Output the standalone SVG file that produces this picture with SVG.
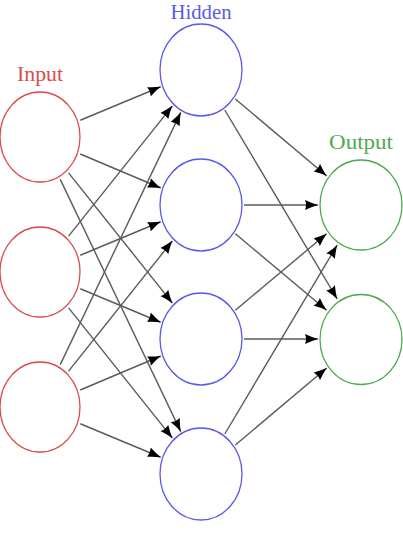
<svg xmlns="http://www.w3.org/2000/svg" width="403" height="543" viewBox="0 0 403 543">
<style>
.node{fill:#ffffff;stroke-width:1.3}
.in{stroke:#d94c4c}
.hid{stroke:#5a5ae8}
.out{stroke:#4eaa4e}
.lbl{font-family:"Liberation Serif","Times New Roman",serif;font-size:22px;text-anchor:middle}
.e{stroke:#5a5a5a;stroke-width:1.4;fill:none;marker-end:url(#ah)}
</style>
<defs>
<marker id="ah" markerUnits="userSpaceOnUse" markerWidth="14" markerHeight="11" viewBox="0 0 14 11" refX="13" refY="5.5" orient="auto">
<path d="M0,0.5 Q7,3.8 13,5.5 Q7,7.2 0,10.5 Q2,5.5 0,0.5 z" fill="#000"/>
</marker>
</defs>
<rect width="403" height="543" fill="#ffffff"/>
<g id="connectors">
<line class="e" x1="80.29" y1="120.23" x2="160.71" y2="86.77"/>
<line class="e" x1="80.22" y1="153.99" x2="160.78" y2="188.01"/>
<line class="e" x1="68.58" y1="172.86" x2="172.42" y2="303.14"/>
<line class="e" x1="60.23" y1="179.35" x2="180.77" y2="431.65"/>
<line class="e" x1="68.58" y1="236.14" x2="172.42" y2="105.86"/>
<line class="e" x1="80.29" y1="255.23" x2="160.71" y2="221.77"/>
<line class="e" x1="80.29" y1="288.77" x2="160.71" y2="322.23"/>
<line class="e" x1="68.58" y1="307.86" x2="172.42" y2="438.14"/>
<line class="e" x1="60.23" y1="364.65" x2="180.77" y2="112.35"/>
<line class="e" x1="68.58" y1="371.14" x2="172.42" y2="240.86"/>
<line class="e" x1="80.22" y1="390.01" x2="160.78" y2="355.99"/>
<line class="e" x1="80.29" y1="423.77" x2="160.71" y2="457.23"/>
<line class="e" x1="235.3" y1="98.94" x2="326.7" y2="176.06"/>
<line class="e" x1="224.78" y1="109.99" x2="337.22" y2="299.01"/>
<line class="e" x1="244" y1="205" x2="318" y2="205"/>
<line class="e" x1="235.4" y1="233.81" x2="326.6" y2="310.19"/>
<line class="e" x1="235.4" y1="310.19" x2="326.6" y2="233.81"/>
<line class="e" x1="244" y1="339" x2="318" y2="339"/>
<line class="e" x1="224.78" y1="434.01" x2="337.22" y2="244.99"/>
<line class="e" x1="235.3" y1="445.06" x2="326.7" y2="367.94"/>
</g>
<g id="input-1"><ellipse class="node in" cx="40" cy="137" rx="40" ry="45"/></g>
<g id="input-2"><ellipse class="node in" cx="40" cy="272" rx="40" ry="45"/></g>
<g id="input-3"><ellipse class="node in" cx="40" cy="407" rx="40" ry="45"/></g>
<g id="hidden-1"><ellipse class="node hid" cx="201" cy="70" rx="41" ry="46"/></g>
<g id="hidden-2"><ellipse class="node hid" cx="201" cy="205" rx="41" ry="46"/></g>
<g id="hidden-3"><ellipse class="node hid" cx="201" cy="339" rx="41" ry="46"/></g>
<g id="hidden-4"><ellipse class="node hid" cx="201" cy="474" rx="41" ry="46"/></g>
<g id="output-1"><ellipse class="node out" cx="361" cy="205" rx="41" ry="45"/></g>
<g id="output-2"><ellipse class="node out" cx="361" cy="339.5" rx="41" ry="45"/></g>
<g id="labels">
<text class="lbl" x="40" y="81" fill="#d94c4c" textLength="46" lengthAdjust="spacingAndGlyphs">Input</text>
<text class="lbl" x="201" y="19" fill="#5a5ae8" textLength="61" lengthAdjust="spacingAndGlyphs">Hidden</text>
<text class="lbl" x="361" y="149" fill="#4eaa4e" textLength="64" lengthAdjust="spacingAndGlyphs">Output</text>
</g>
</svg>
